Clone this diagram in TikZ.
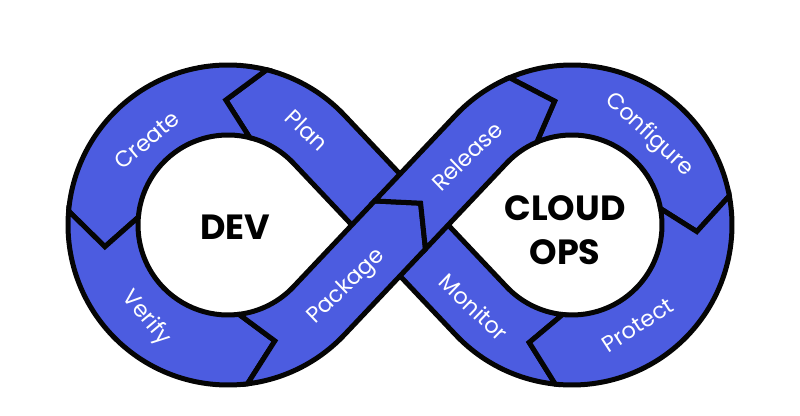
\documentclass[tikz,border=0pt]{standalone}
\usepackage{fontspec}
\setmainfont{Poppins}
\usetikzlibrary{calc}
\definecolor{loopblue}{RGB}{76, 92, 224}
\definecolor{loopline}{RGB}{5, 5, 5}

\tikzset{
    seg/.style={draw=loopline, fill=loopblue, line width=5pt, line join=miter},
    lbl/.style={text=white, font=\fontsize{22.5}{26}\selectfont, inner sep=0pt},
    hub/.style={text=black, font=\bfseries\fontsize{35}{44}\selectfont, align=center, inner sep=0pt}
}

\begin{document}
\begin{tikzpicture}[x=1pt, y=1pt]
    \useasboundingbox (0,0) rectangle (800,415);
    \coordinate (L) at (228,190);
    \coordinate (R) at (572,190);
    \coordinate (P) at (400,190);
    \pgfmathsetmacro{\ph}{acos(125/172)}

    % band that runs under the crossing
    \draw[seg] ($(P)+(\ph:35)$) -- ($(L)+(\ph:160)$) arc[start angle=\ph, end angle=76, radius=160]
        -- ($(L)+(91:125)$) -- ($(L)+(76:90)$) arc[start angle=76, end angle=\ph, radius=90]
        -- ($(P)+({180+\ph}:35)$) -- cycle;
    \draw[seg] ($(R)+(-96:160)$) arc[start angle=-96, end angle={-180+\ph}, radius=160]
        -- ($(P)+({180+\ph}:35)$) -- ($(P)+(\ph:35)$) -- ($(R)+({180+\ph}:90)$)
        arc[start angle={-180+\ph}, end angle=-96, radius=90] -- ($(R)+(-110:125)$) -- cycle;

    % left loop
    \draw[seg] ($(L)+(76:160)$) arc[start angle=76, end angle=175, radius=160]
        -- ($(L)+(190:125)$) -- ($(L)+(175:90)$) arc[start angle=175, end angle=76, radius=90]
        -- ($(L)+(91:125)$) -- cycle;
    \draw[seg] ($(L)+(175:160)$) arc[start angle=175, end angle=277, radius=160]
        -- ($(L)+(292:125)$) -- ($(L)+(277:90)$) arc[start angle=277, end angle=175, radius=90]
        -- ($(L)+(190:125)$) -- cycle;

    % right loop
    \draw[seg] ($(R)+(113:160)$) arc[start angle=113, end angle=10.5, radius=160]
        -- ($(R)+(-3:125)$) -- ($(R)+(10.5:90)$) arc[start angle=10.5, end angle=113, radius=90]
        -- ($(R)+(98:125)$) -- cycle;
    \draw[seg] ($(R)+(10.5:160)$) arc[start angle=10.5, end angle=-96, radius=160]
        -- ($(R)+(-110:125)$) -- ($(R)+(-96:90)$) arc[start angle=-96, end angle=10.5, radius=90]
        -- ($(R)+(-3:125)$) -- cycle;

    % band over the crossing
    \draw[seg] ($(L)+(277:160)$) arc[start angle=277, end angle={360-\ph}, radius=160]
        -- ($(P)+(-\ph:35)$) -- ($(P)+({90-\ph}:30)$) -- ($(P)+({180-\ph}:35)$)
        -- ($(L)+(-\ph:90)$) arc[start angle={360-\ph}, end angle=277, radius=90]
        -- ($(L)+(292:125)$) -- cycle;
    \draw[seg] ($(P)+(-\ph:35)$) -- ($(P)+({90-\ph}:30)$) -- ($(P)+({180-\ph}:35)$)
        -- ($(R)+({180-\ph}:160)$) arc[start angle={180-\ph}, end angle=113, radius=160]
        -- ($(R)+(98:125)$) -- ($(R)+(113:90)$) arc[start angle=113, end angle={180-\ph}, radius=90]
        -- cycle;

    % labels
    \node[lbl, rotate=40] (create) at (147,275) {Create};
    \node[lbl, rotate=-44] (plan) at (307,285) {Plan};
    \node[lbl, rotate=-50] (verify) at (146,97) {Verify};
    \node[lbl, rotate=44] (package) at (347,128) {Package};
    \node[lbl, rotate=44] (release) at (467,259) {Release};
    \node[lbl, rotate=-43] (configure) at (649,280) {Configure};
    \node[lbl, rotate=-44] (monitor) at (474,108) {Monitor};
    \node[lbl, rotate=33] (protect) at (638,90) {Protect};

    \node[hub] (dev) at (235,188) {DEV};
    \node[hub] (cloudops) at (565,185) {CLOUD\\OPS};
\end{tikzpicture}
\end{document}
